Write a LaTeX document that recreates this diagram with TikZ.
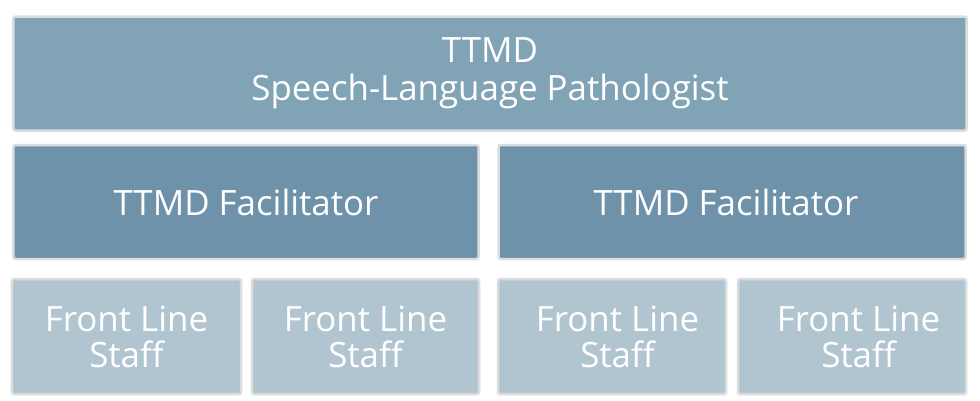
\documentclass[tikz,border=0pt]{standalone}
\usepackage{fontspec}
\setmainfont{Open Sans}
\begin{document}
\begin{tikzpicture}[x=1bp,y=-1bp]
\definecolor{topc}{RGB}{128,163,182}
\definecolor{facc}{RGB}{110,146,169}
\definecolor{frontc}{RGB}{177,197,209}
\definecolor{edgec}{RGB}{218,220,222}
\tikzset{
  boxbase/.style={draw=edgec, line width=2.5bp, rounded corners=2bp, inner sep=0pt, text=white, align=center},
  topbox/.style={boxbase, fill=topc, font=\fontsize{35}{38}\selectfont},
  facbox/.style={boxbase, fill=facc, font=\fontsize{35}{38}\selectfont},
  frontbox/.style={boxbase, fill=frontc, font=\fontsize{35}{36}\selectfont},
}
\newcommand{\padl}[1]{\makebox[#1]{}}
\useasboundingbox (0,0) rectangle (980,400);
\fill[white] (0,0) rectangle (980,400);
\node[topbox, minimum width=953bp, minimum height=114bp] (slp) at (490,73.5) {TTMD\\Speech-Language Pathologist};
\node[facbox, minimum width=465bp, minimum height=114bp] (facl) at (246,202) {TTMD Facilitator};
\node[facbox, minimum width=467bp, minimum height=114bp] (facr) at (732,202) {TTMD Facilitator\padl{12bp}};
\node[frontbox, minimum width=229bp, minimum height=115bp] (f1) at (126.5,336.5) {Front Line\\Staff};
\node[frontbox, minimum width=227bp, minimum height=115bp] (f2) at (365.5,336.5) {Front Line\\Staff};
\node[frontbox, minimum width=228bp, minimum height=115bp] (f3) at (612,336.5) {\padl{11bp}Front Line\\\padl{11bp}Staff};
\node[frontbox, minimum width=228bp, minimum height=115bp] (f4) at (852,336.5) {\padl{13bp}Front Line\\\padl{13bp}Staff};
\end{tikzpicture}
\end{document}
